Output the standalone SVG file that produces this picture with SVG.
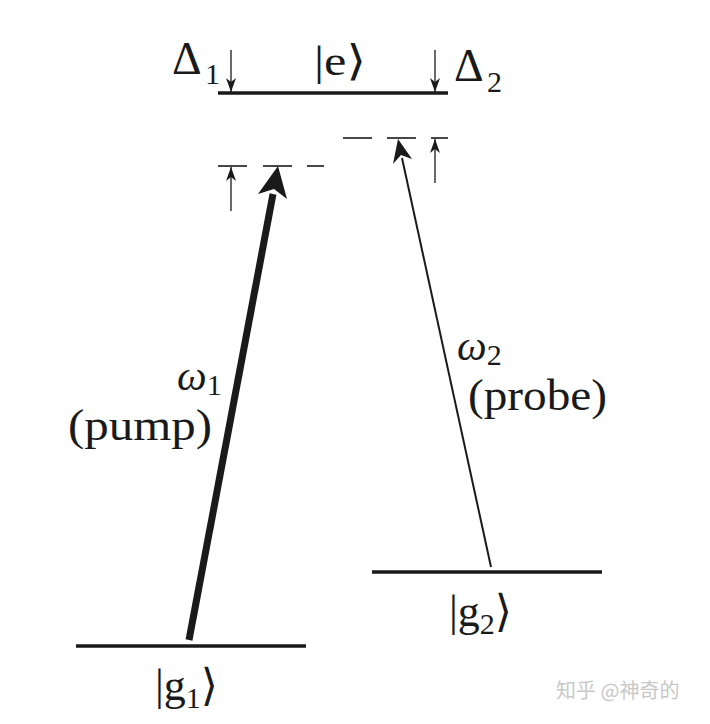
<svg xmlns="http://www.w3.org/2000/svg" width="710" height="724" viewBox="0 0 710 724">
<defs>
<style>
.t{font-family:'Liberation Serif','DejaVu Serif',serif}
.lvl{stroke:#1a1a1a;stroke-width:3.5}
.dash{stroke:#1a1a1a;stroke-width:1.6}
.thin{stroke:#1a1a1a;stroke-width:1.3;fill:none}
</style>
<marker id="sa" viewBox="0 0 14 10" refX="14" refY="5" markerWidth="14" markerHeight="10" markerUnits="userSpaceOnUse" orient="auto"><path d="M0,0 L14,5 L0,10 L4,5 Z" fill="#1a1a1a"/></marker>
</defs>
<rect width="710" height="724" fill="#fff"/>
<g id="level-e">
<line class="lvl" x1="218" y1="93" x2="448" y2="93"/>
<text class="t" fill="#1a1a1a" x="314" y="75" font-size="42" textLength="52" lengthAdjust="spacingAndGlyphs">|e⟩</text>
</g>
<g id="level-g1">
<line class="lvl" x1="76" y1="646" x2="306" y2="646"/>
<text class="t" fill="#1a1a1a" x="155" y="700" font-size="44">|g<tspan font-size="30" dy="8">1</tspan><tspan dy="-8">⟩</tspan></text>
</g>
<g id="level-g2">
<line class="lvl" x1="372" y1="572" x2="602" y2="572"/>
<text class="t" fill="#1a1a1a" x="449" y="626" font-size="44">|g<tspan font-size="30" dy="8">2</tspan><tspan dy="-8">⟩</tspan></text>
</g>
<g id="virtual-1">
<line class="dash" x1="218" y1="166" x2="247" y2="166"/>
<line class="dash" x1="263" y1="166" x2="292" y2="166"/>
<line class="dash" x1="307" y1="166" x2="324" y2="166"/>
</g>
<g id="virtual-2">
<line class="dash" x1="343" y1="138" x2="372" y2="138"/>
<line class="dash" x1="387" y1="138" x2="416" y2="138"/>
<line class="dash" x1="431" y1="138" x2="448" y2="138"/>
</g>
<g id="delta1">
<text class="t" fill="#1a1a1a" x="172" y="74" font-size="46">Δ<tspan x="205" y="84" font-size="30">1</tspan></text>
</g>
<g id="delta2">
<text class="t" fill="#1a1a1a" x="454" y="81" font-size="46">Δ<tspan x="487" y="92" font-size="30">2</tspan></text>
</g>
<g id="pump-label">
<text class="t" fill="#1a1a1a" x="177" y="390" font-size="42" font-style="italic">ω<tspan font-style="normal" font-size="30" dy="5">1</tspan></text>
<text class="t" fill="#1a1a1a" x="68" y="440" font-size="44" textLength="144" lengthAdjust="spacingAndGlyphs">(pump)</text>
</g>
<g id="probe-label">
<text class="t" fill="#1a1a1a" x="457" y="360" font-size="42" font-style="italic">ω<tspan font-style="normal" font-size="30" dy="5">2</tspan></text>
<text class="t" fill="#1a1a1a" x="468" y="410" font-size="44" textLength="139" lengthAdjust="spacingAndGlyphs">(probe)</text>
</g>
<g id="connectors">
<line class="thin" x1="231" y1="50" x2="231" y2="92" marker-end="url(#sa)"/>
<line class="thin" x1="435" y1="50" x2="435" y2="92" marker-end="url(#sa)"/>
<line class="thin" x1="231" y1="211" x2="231" y2="167" marker-end="url(#sa)"/>
<line class="thin" x1="435" y1="183" x2="435" y2="139" marker-end="url(#sa)"/>
<line x1="189" y1="640" x2="273" y2="194" stroke="#1a1a1a" stroke-width="7"/>
<polygon points="278,166 287,199 274,189 258,194" fill="#1a1a1a"/>
<line x1="491" y1="567" x2="402" y2="158" stroke="#1a1a1a" stroke-width="2"/>
<polygon points="398,139 412,159 401,155 393,164" fill="#1a1a1a"/>
</g>
<text x="556" y="698" font-size="20" fill="#c8c8c8" font-family="'Noto Sans CJK SC',sans-serif">知乎 @神奇的</text>
</svg>
